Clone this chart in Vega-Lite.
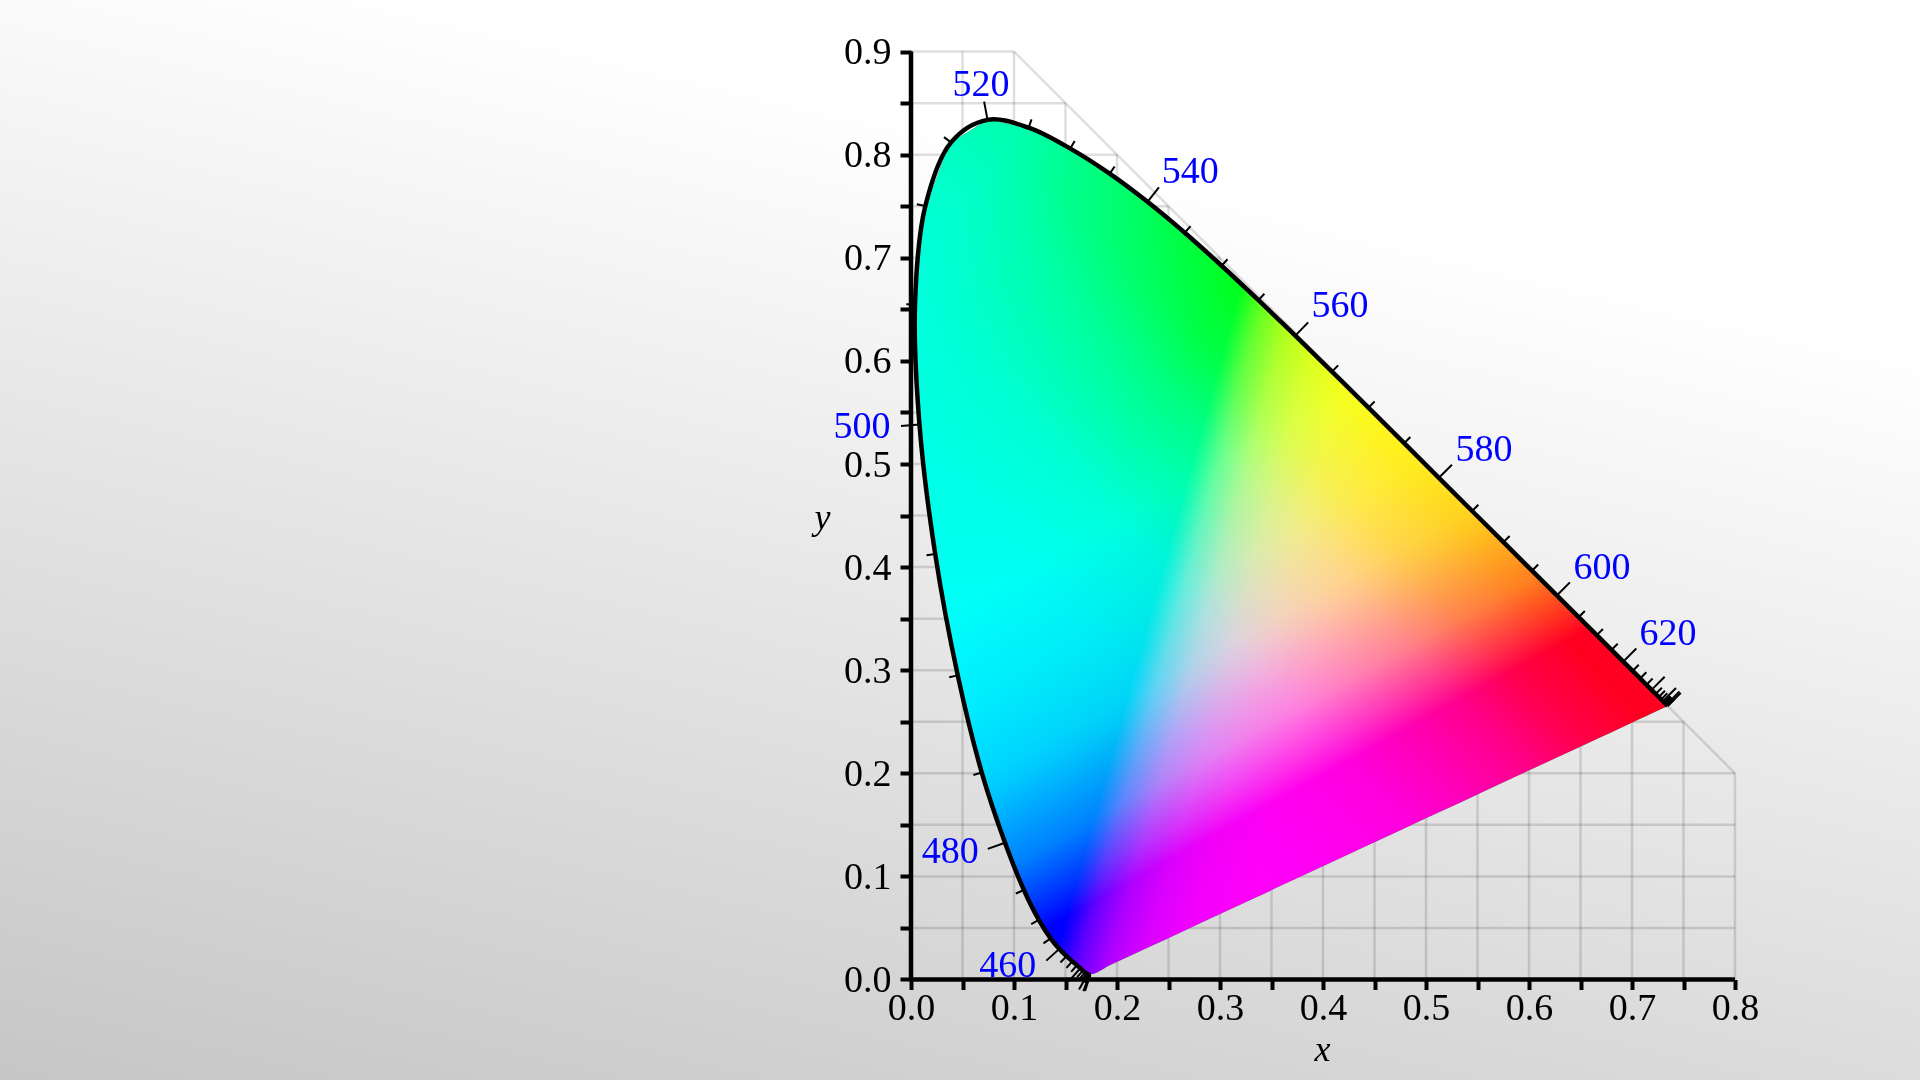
{"$schema":"https://vega.github.io/schema/vega-lite/v6.json","width":1920,"height":1080,"padding":0,"autosize":{"type":"fit","contains":"padding"},"background":"#ffffff",
"config":{"view":{"stroke":null}},
"view":{"stroke":null,"fill":{"gradient":"linear","x1":0.39,"y1":0.07,"x2":0,"y2":1,"stops":[{"offset":0,"color":"#ffffff"},{"offset":1,"color":"#c6c6c6"}]}},
"datasets":{
"gamut":[{"x":0.0039,"y":0.6548,"lo":0.6548},{"x":0.0082,"y":0.6958,"lo":0.5384},{"x":0.0139,"y":0.7502,"lo":0.4916},{"x":0.0235,"y":0.7739,"lo":0.4127},{"x":0.0389,"y":0.812,"lo":0.3299},{"x":0.0454,"y":0.816,"lo":0.295},{"x":0.0687,"y":0.8304,"lo":0.2007},{"x":0.0743,"y":0.8338,"lo":0.1839},{"x":0.0913,"y":0.8306,"lo":0.1327},{"x":0.1142,"y":0.8262,"lo":0.0804},{"x":0.1241,"y":0.8212,"lo":0.0578},{"x":0.144,"y":0.8113,"lo":0.0297},{"x":0.1547,"y":0.8059,"lo":0.0195},{"x":0.1566,"y":0.8047,"lo":0.0177},{"x":0.1644,"y":0.7997,"lo":0.0109},{"x":0.1741,"y":0.7936,"lo":0.005},{"x":0.1929,"y":0.7816,"lo":0.0137},{"x":0.2296,"y":0.7543,"lo":0.0308},{"x":0.2658,"y":0.7243,"lo":0.0476},{"x":0.3016,"y":0.6923,"lo":0.0642},{"x":0.3373,"y":0.6589,"lo":0.0808},{"x":0.3731,"y":0.6245,"lo":0.0974},{"x":0.4087,"y":0.5896,"lo":0.1139},{"x":0.4441,"y":0.5547,"lo":0.1304},{"x":0.4788,"y":0.5202,"lo":0.1465},{"x":0.5125,"y":0.4866,"lo":0.1621},{"x":0.5448,"y":0.4544,"lo":0.1771},{"x":0.5752,"y":0.4242,"lo":0.1912},{"x":0.6029,"y":0.3965,"lo":0.2041},{"x":0.627,"y":0.3725,"lo":0.2153},{"x":0.6482,"y":0.3514,"lo":0.2251},{"x":0.6658,"y":0.334,"lo":0.2333},{"x":0.6915,"y":0.3083,"lo":0.2452},{"x":0.7079,"y":0.292,"lo":0.2528},{"x":0.719,"y":0.2809,"lo":0.258},{"x":0.7347,"y":0.2653,"lo":0.2653}],
"locus":[{"w":380,"x":0.1741,"y":0.005,"xe":0.169,"ye":-0.0112},{"w":385,"x":0.174,"y":0.005,"xe":0.1714,"ye":-0.0031},{"w":390,"x":0.1738,"y":0.0049,"xe":0.1712,"ye":-0.0032},{"w":395,"x":0.1736,"y":0.0049,"xe":0.1706,"ye":-0.0031},{"w":400,"x":0.1733,"y":0.0048,"xe":0.1673,"ye":-0.0112},{"w":405,"x":0.173,"y":0.0048,"xe":0.17,"ye":-0.0032},{"w":410,"x":0.1726,"y":0.0048,"xe":0.1692,"ye":-0.003},{"w":415,"x":0.1721,"y":0.0048,"xe":0.1683,"ye":-0.0028},{"w":420,"x":0.1714,"y":0.0051,"xe":0.1631,"ye":-0.0097},{"w":425,"x":0.1703,"y":0.0058,"xe":0.1654,"ye":-0.0011},{"w":430,"x":0.1689,"y":0.0069,"xe":0.1635,"ye":0.0003},{"w":435,"x":0.1669,"y":0.0086,"xe":0.1613,"ye":0.0023},{"w":440,"x":0.1644,"y":0.0109,"xe":0.1531,"ye":-0.0018},{"w":445,"x":0.1611,"y":0.0138,"xe":0.1555,"ye":0.0074},{"w":450,"x":0.1566,"y":0.0177,"xe":0.151,"ye":0.0113},{"w":455,"x":0.151,"y":0.0227,"xe":0.1451,"ye":0.0165},{"w":460,"x":0.144,"y":0.0297,"xe":0.1314,"ye":0.0183},{"w":465,"x":0.1355,"y":0.0399,"xe":0.1286,"ye":0.035},{"w":470,"x":0.1241,"y":0.0578,"xe":0.1167,"ye":0.0537},{"w":475,"x":0.1096,"y":0.0868,"xe":0.1018,"ye":0.0834},{"w":480,"x":0.0913,"y":0.1327,"xe":0.0745,"ye":0.1267},{"w":485,"x":0.0687,"y":0.2007,"xe":0.0605,"ye":0.1984},{"w":490,"x":0.0454,"y":0.295,"xe":0.0371,"ye":0.2932},{"w":495,"x":0.0235,"y":0.4127,"xe":0.0151,"ye":0.4114},{"w":500,"x":0.0082,"y":0.5384,"xe":-0.0097,"ye":0.5369},{"w":505,"x":0.0039,"y":0.6548,"xe":-0.0046,"ye":0.655},{"w":510,"x":0.0139,"y":0.7502,"xe":0.0056,"ye":0.752},{"w":515,"x":0.0389,"y":0.812,"xe":0.032,"ye":0.817},{"w":520,"x":0.0743,"y":0.8338,"xe":0.071,"ye":0.8515},{"w":525,"x":0.1142,"y":0.8262,"xe":0.117,"ye":0.8342},{"w":530,"x":0.1547,"y":0.8059,"xe":0.1589,"ye":0.8133},{"w":535,"x":0.1929,"y":0.7816,"xe":0.1977,"ye":0.7886},{"w":540,"x":0.2296,"y":0.7543,"xe":0.2407,"ye":0.7684},{"w":545,"x":0.2658,"y":0.7243,"xe":0.2714,"ye":0.7307},{"w":550,"x":0.3016,"y":0.6923,"xe":0.3073,"ye":0.6986},{"w":555,"x":0.3373,"y":0.6589,"xe":0.3431,"ye":0.6651},{"w":560,"x":0.3731,"y":0.6245,"xe":0.3856,"ye":0.6374},{"w":565,"x":0.4087,"y":0.5896,"xe":0.4147,"ye":0.5957},{"w":570,"x":0.4441,"y":0.5547,"xe":0.4501,"ye":0.5607},{"w":575,"x":0.4788,"y":0.5202,"xe":0.4848,"ye":0.5262},{"w":580,"x":0.5125,"y":0.4866,"xe":0.5252,"ye":0.4993},{"w":585,"x":0.5448,"y":0.4544,"xe":0.5508,"ye":0.4604},{"w":590,"x":0.5752,"y":0.4242,"xe":0.5812,"ye":0.4302},{"w":595,"x":0.6029,"y":0.3965,"xe":0.6089,"ye":0.4025},{"w":600,"x":0.627,"y":0.3725,"xe":0.6397,"ye":0.3852},{"w":605,"x":0.6482,"y":0.3514,"xe":0.6542,"ye":0.3574},{"w":610,"x":0.6658,"y":0.334,"xe":0.6718,"ye":0.34},{"w":615,"x":0.6801,"y":0.3197,"xe":0.6861,"ye":0.3257},{"w":620,"x":0.6915,"y":0.3083,"xe":0.7042,"ye":0.321},{"w":625,"x":0.7006,"y":0.2993,"xe":0.7066,"ye":0.3053},{"w":630,"x":0.7079,"y":0.292,"xe":0.7139,"ye":0.298},{"w":635,"x":0.714,"y":0.2859,"xe":0.72,"ye":0.2919},{"w":640,"x":0.719,"y":0.2809,"xe":0.7317,"ye":0.2936},{"w":645,"x":0.723,"y":0.277,"xe":0.729,"ye":0.283},{"w":650,"x":0.726,"y":0.274,"xe":0.732,"ye":0.28},{"w":655,"x":0.7283,"y":0.2717,"xe":0.7343,"ye":0.2777},{"w":660,"x":0.73,"y":0.27,"xe":0.7427,"ye":0.2827},{"w":665,"x":0.7311,"y":0.2689,"xe":0.7371,"ye":0.2749},{"w":670,"x":0.732,"y":0.268,"xe":0.738,"ye":0.274},{"w":675,"x":0.7327,"y":0.2673,"xe":0.7387,"ye":0.2733},{"w":680,"x":0.7334,"y":0.2666,"xe":0.7461,"ye":0.2793},{"w":685,"x":0.734,"y":0.266,"xe":0.74,"ye":0.272},{"w":690,"x":0.7344,"y":0.2656,"xe":0.7404,"ye":0.2716},{"w":695,"x":0.7346,"y":0.2654,"xe":0.7406,"ye":0.2714},{"w":700,"x":0.7347,"y":0.2653,"xe":0.7474,"ye":0.278}],
"grid":[{"x":0.05,"y":0,"xe":0.05,"ye":0.9},{"x":0.1,"y":0,"xe":0.1,"ye":0.9},{"x":0.15,"y":0,"xe":0.15,"ye":0.85},{"x":0.2,"y":0,"xe":0.2,"ye":0.8},{"x":0.25,"y":0,"xe":0.25,"ye":0.75},{"x":0.3,"y":0,"xe":0.3,"ye":0.7},{"x":0.35,"y":0,"xe":0.35,"ye":0.65},{"x":0.4,"y":0,"xe":0.4,"ye":0.6},{"x":0.45,"y":0,"xe":0.45,"ye":0.55},{"x":0.5,"y":0,"xe":0.5,"ye":0.5},{"x":0.55,"y":0,"xe":0.55,"ye":0.45},{"x":0.6,"y":0,"xe":0.6,"ye":0.4},{"x":0.65,"y":0,"xe":0.65,"ye":0.35},{"x":0.7,"y":0,"xe":0.7,"ye":0.3},{"x":0.75,"y":0,"xe":0.75,"ye":0.25},{"x":0.8,"y":0,"xe":0.8,"ye":0.2},{"x":0,"y":0.05,"xe":0.8,"ye":0.05},{"x":0,"y":0.1,"xe":0.8,"ye":0.1},{"x":0,"y":0.15,"xe":0.8,"ye":0.15},{"x":0,"y":0.2,"xe":0.8,"ye":0.2},{"x":0,"y":0.25,"xe":0.75,"ye":0.25},{"x":0,"y":0.3,"xe":0.7,"ye":0.3},{"x":0,"y":0.35,"xe":0.65,"ye":0.35},{"x":0,"y":0.4,"xe":0.6,"ye":0.4},{"x":0,"y":0.45,"xe":0.55,"ye":0.45},{"x":0,"y":0.5,"xe":0.5,"ye":0.5},{"x":0,"y":0.55,"xe":0.45,"ye":0.55},{"x":0,"y":0.6,"xe":0.4,"ye":0.6},{"x":0,"y":0.65,"xe":0.35,"ye":0.65},{"x":0,"y":0.7,"xe":0.3,"ye":0.7},{"x":0,"y":0.75,"xe":0.25,"ye":0.75},{"x":0,"y":0.8,"xe":0.2,"ye":0.8},{"x":0,"y":0.85,"xe":0.15,"ye":0.85},{"x":0,"y":0.9,"xe":0.1,"ye":0.9},{"x":0.1,"y":0.9,"xe":0.8,"ye":0.2}],
"axes":[{"x":0,"y":0,"xe":0,"ye":0.9},{"x":0,"y":0,"xe":0.8,"ye":0}],
"labels":[{"x":0.094,"y":0.013,"label":"460"},{"x":0.038,"y":0.124,"label":"480"},{"x":-0.0476,"y":0.5355,"label":"500"},{"x":0.068,"y":0.868,"label":"520"},{"x":0.271,"y":0.7836,"label":"540"},{"x":0.4165,"y":0.653,"label":"560"},{"x":0.5563,"y":0.5138,"label":"580"},{"x":0.6709,"y":0.3996,"label":"600"},{"x":0.7349,"y":0.3355,"label":"620"}]
},
"encoding":{
"x":{"field":"x","type":"quantitative","scale":{"domain":[-0.88447,0.97961],"nice":false,"zero":false},
"axis":{"orient":"bottom","offset":-100.5,"values":[0,0.05,0.1,0.15,0.2,0.25,0.3,0.35,0.4,0.45,0.5,0.55,0.6,0.65,0.7,0.75,0.8],"format":".1f","labelExpr":"abs(datum.value*10-round(datum.value*10))<0.001 ? datum.label : ''","domain":false,"grid":false,"ticks":true,"tickColor":"#000000","tickWidth":4,"tickSize":10,"labelFont":"Liberation Serif","labelFontSize":38,"labelColor":"#000000","labelPadding":0,"labelOverlap":false,"labelFlush":false,"labelBound":false,"title":"x","titleFont":"Liberation Serif","titleFontSize":36,"titleFontStyle":"italic","titleFontWeight":"normal","titleColor":"#000000","titleX":1322,"titleY":70,"titleBaseline":"middle","titleAlign":"center"}},
"y":{"field":"y","type":"quantitative","scale":{"domain":[-0.09748,0.95005],"nice":false,"zero":false},
"axis":{"orient":"left","offset":-911,"values":[0,0.05,0.1,0.15,0.2,0.25,0.3,0.35,0.4,0.45,0.5,0.55,0.6,0.65,0.7,0.75,0.8,0.85,0.9],"format":".1f","labelExpr":"abs(datum.value*10-round(datum.value*10))<0.001 ? datum.label : ''","domain":false,"grid":false,"ticks":true,"tickColor":"#000000","tickWidth":4,"tickSize":11,"labelFont":"Liberation Serif","labelFontSize":38,"labelColor":"#000000","labelPadding":9,"labelOffset":1,"labelOverlap":false,"labelBound":false,"title":"y","titleFont":"Liberation Serif","titleFontSize":36,"titleFontStyle":"italic","titleFontWeight":"normal","titleColor":"#000000","titleAngle":0,"titleX":-89,"titleY":517,"titleBaseline":"middle","titleAlign":"center"}}
},
"layer":[
{"data":{"name":"grid"},"mark":{"type":"rule","stroke":"#000000","strokeOpacity":0.13,"strokeWidth":2.5},"encoding":{"x2":{"field":"xe"},"y2":{"field":"ye"}}},
{"data":{"name":"gamut"},"mark":{"type":"area","interpolate":"monotone","fill":"#000000","stroke":null},"encoding":{"y2":{"field":"lo"}}},
{"data":{"name":"gamut"},"mark":{"type":"area","interpolate":"monotone","blend":"screen","stroke":null,"fill":{"gradient":"linear","x1":0.313,"y1":0.5746,"x2":0.5322,"y2":0.6434,"stops":[{"offset":0,"color":"#000000"},{"offset":0.05,"color":"#1f0000"},{"offset":0.14,"color":"#610000"},{"offset":0.31,"color":"#b00000"},{"offset":0.5,"color":"#db0000"},{"offset":0.7,"color":"#f20000"},{"offset":1,"color":"#ff0000"}]}},"encoding":{"y2":{"field":"lo"}}},
{"data":{"name":"gamut"},"mark":{"type":"area","interpolate":"monotone","blend":"screen","stroke":null,"fill":{"gradient":"linear","x1":0.5078,"y1":0.7843,"x2":0.3374,"y2":0.4337,"stops":[{"offset":0,"color":"#000000"},{"offset":0.083,"color":"#003300"},{"offset":0.22,"color":"#008000"},{"offset":0.445,"color":"#00c700"},{"offset":0.5,"color":"#00d400"},{"offset":0.7,"color":"#00eb00"},{"offset":1,"color":"#00ff00"}]}},"encoding":{"y2":{"field":"lo"}}},
{"data":{"name":"gamut"},"mark":{"type":"area","interpolate":"monotone","blend":"screen","stroke":null,"fill":{"gradient":"linear","x1":0.6316,"y1":0.3852,"x2":0.2136,"y2":0.8328,"stops":[{"offset":0,"color":"#000020"},{"offset":0.13,"color":"#00004d"},{"offset":0.25,"color":"#00008c"},{"offset":0.375,"color":"#0000b8"},{"offset":0.5,"color":"#0000de"},{"offset":0.7,"color":"#0000f5"},{"offset":1,"color":"#0000ff"}]}},"encoding":{"y2":{"field":"lo"}}},
{"data":{"name":"gamut"},"mark":{"type":"area","interpolate":"monotone","blend":"multiply","stroke":null,"fill":{"gradient":"linear","x1":0.2,"y1":0.524,"x2":0.036,"y2":0.222,"stops":[{"offset":0,"color":"#ffffff"},{"offset":1,"color":"#ffffcc"}]}},"encoding":{"y2":{"field":"lo"}}},
{"data":{"name":"gamut"},"mark":{"type":"area","interpolate":"monotone","blend":"screen","stroke":null,"fill":{"gradient":"linear","x1":0.4052,"y1":0.222,"x2":0.1316,"y2":0.0169,"stops":[{"offset":0,"color":"#000000"},{"offset":1,"color":"#000099"}]}},"encoding":{"y2":{"field":"lo"}}},
{"data":{"name":"locus"},"mark":{"type":"rule","stroke":"#000000","strokeWidth":2},"encoding":{"x2":{"field":"xe"},"y2":{"field":"ye"}}},
{"data":{"name":"locus"},"mark":{"type":"line","interpolate":"catmull-rom","stroke":"#000000","strokeWidth":4.5,"strokeJoin":"round"},"encoding":{"order":{"field":"w","type":"quantitative"}}},
{"data":{"name":"axes"},"mark":{"type":"rule","stroke":"#000000","strokeWidth":4.5},"encoding":{"x2":{"field":"xe"},"y2":{"field":"ye"}}},
{"data":{"name":"labels"},"mark":{"type":"text","font":"Liberation Serif","fontSize":38,"fill":"#0000ff","align":"center","baseline":"middle"},"encoding":{"text":{"field":"label","type":"nominal"}}}
]}
